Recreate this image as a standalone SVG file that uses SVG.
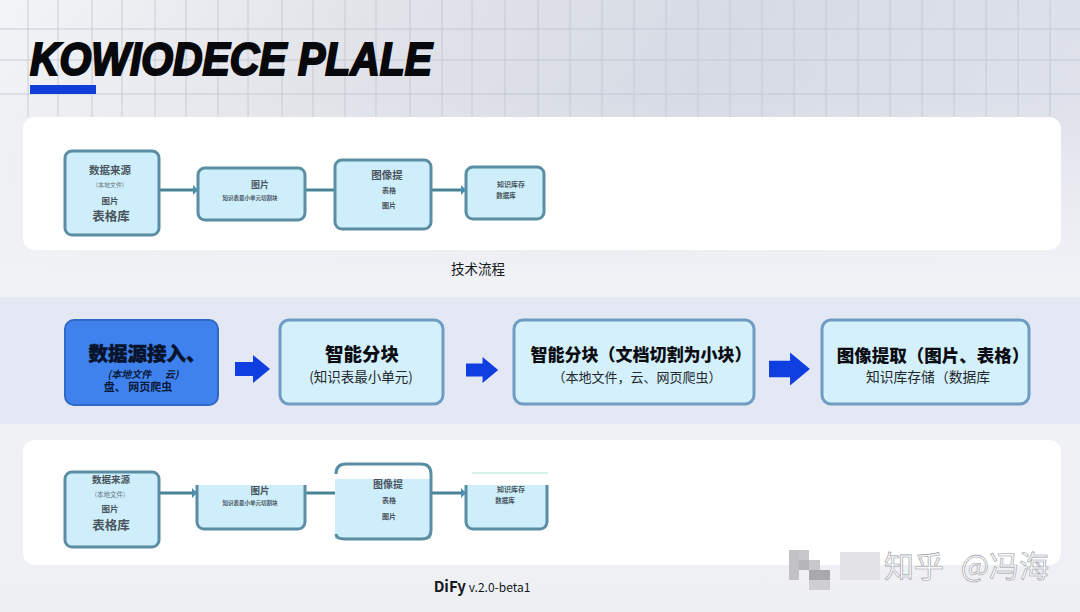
<svg xmlns="http://www.w3.org/2000/svg" width="1080" height="612" viewBox="0 0 1080 612">
<defs>
<linearGradient id="bg" x1="0" y1="0" x2="1" y2="0.35"><stop offset="0" stop-color="#f3f4f7"/><stop offset="0.3" stop-color="#e2e4ea"/><stop offset="0.62" stop-color="#d7dbe5"/><stop offset="1" stop-color="#e0e3ec"/></linearGradient>
<linearGradient id="low" x1="0" y1="0" x2="0" y2="1"><stop offset="0" stop-color="#f1f2f6" stop-opacity="0"/><stop offset="0.35" stop-color="#f1f2f6"/><stop offset="1" stop-color="#eef0f4"/></linearGradient>
<marker id="tip" markerWidth="6" markerHeight="10" refX="4" refY="5" orient="auto" markerUnits="userSpaceOnUse"><path d="M0 0L5 5L0 10Z" fill="#4a8fb0"/></marker>
<path id="big" d="M0 -7H18V-14L35 0L18 14V7H0Z" fill="#0f3fe0"/>
</defs>
<style>
.card{fill:#fff}
.nd{fill:#cdeefa;stroke:#5b8ea3;stroke-width:3}
.bl{fill:#d3f0fb;stroke:#6f9cc2;stroke-width:3}
.ln{stroke:#4a8295;stroke-width:3;fill:none}
.grid{stroke:#c0c4ce;stroke-width:1;fill:none;opacity:.8}
text{font-family:"Noto Sans CJK SC","Liberation Sans",sans-serif;text-anchor:middle}
.g{fill:#4a555e;font-weight:700}
.m{fill:#6a757d}
.h{font-weight:900;fill:#0b0d12}
.s{font-size:13px;fill:#24282e}
</style>
<rect width="1080" height="612" fill="url(#bg)"/>
<g class="grid">
<path d="M28 0V117M58 0V117M92 0V117M122 0V117M155 0V117M186 0V117M218 0V117M248 0V117M282 0V117M313 0V117M345 0V117M376 0V117M410 0V117M442 0V117M472 0V117M505 0V117M538 0V117M570 0V117M602 0V117M634 0V117M666 0V117M698 0V117M730 0V117M762 0V117M794 0V117M826 0V117M858 0V117M890 0V117M922 0V117M954 0V117M986 0V117M1018 0V117M1050 0V117"/>
<path d="M0 29H1080M0 60H1080M0 94H1080"/>
</g>
<rect y="100" width="1080" height="512" fill="url(#low)"/>
<rect x="0" y="297" width="1080" height="127" fill="#e4e8f5"/>
<rect class="card" x="23" y="117" width="1038" height="133" rx="12"/>
<rect class="card" x="23" y="440" width="1038" height="125" rx="12"/>
<text x="30" y="75" style="text-anchor:start;font-family:'Liberation Sans',sans-serif;font-size:47px;font-weight:700;font-style:italic" fill="#08090c" stroke="#08090c" stroke-width="2.2" textLength="402" lengthAdjust="spacingAndGlyphs">KOWIODECE PLALE</text>
<rect x="30" y="85" width="66" height="9" fill="#0f3fd8"/>
<g id="connectors">
<path class="ln" d="M160 190H197" marker-end="url(#tip)"/>
<path class="ln" d="M306 190H335"/>
<path class="ln" d="M432 190H465" marker-end="url(#tip)"/>
<path class="ln" d="M160 493H196" marker-end="url(#tip)"/>
<path class="ln" d="M306 493H335"/>
<path class="ln" d="M432 493H465" marker-end="url(#tip)"/>
<use href="#big" x="235" y="369"/>
<use href="#big" transform="translate(466 370) scale(.92)"/>
<use href="#big" transform="translate(769 369) scale(1.17)"/>
</g>
<g id="top-1"><rect class="nd" x="65" y="151" width="94" height="84" rx="7"/>
<text class="g" x="110" y="174" font-size="10.5">数据来源</text><text class="m" x="110" y="187" font-size="6">(本地文件)</text><text class="g" x="110" y="204" font-size="8.5" font-weight="400">图片</text><text class="g" x="111" y="221" font-size="12.5">表格库</text></g>
<g id="top-2"><rect class="nd" x="198" y="168" width="107" height="52" rx="7"/>
<text class="g" x="260" y="188" font-size="9" font-weight="400">图片</text><text class="g" x="250" y="200" font-size="5.5">知识表最小单元切割块</text></g>
<g id="top-3"><rect class="nd" x="335" y="160" width="96" height="69" rx="7"/>
<text class="g" x="387" y="179" font-size="10.5">图像提</text><text class="g" x="389" y="193" font-size="7">表格</text><text class="g" x="389" y="208" font-size="7">图片</text></g>
<g id="top-4"><rect class="nd" x="466" y="167" width="78" height="52" rx="7"/>
<text class="g" x="511" y="187" font-size="7">知识库存</text><text class="g" x="506" y="198" font-size="6.5">数据库</text></g>
<text id="cap-1" x="478" y="274" font-size="13.5" fill="#15181c">技术流程</text>
<g id="mid-1"><rect x="65" y="320" width="153" height="85" rx="9" fill="#3f82ee" stroke="#3069c4" stroke-width="2"/>
<text x="147" y="361" font-size="19.5" font-weight="900" fill="#08142c" stroke="#08142c" stroke-width=".5">数据源接入、</text>
<text x="143" y="378" font-size="10" font-weight="700" font-style="italic" fill="#0a1a3a" xml:space="preserve">(本地文件      云)</text>
<text x="138" y="391" font-size="11" font-weight="700" fill="#0a1a3a" xml:space="preserve">盘、 网页爬虫</text></g>
<g id="mid-2"><rect class="bl" x="280" y="320" width="163" height="84" rx="9"/><text class="h" font-size="18.5" x="362" y="361">智能分块</text><text class="s" x="361" y="382" style="font-size:13.5px">(知识表最小单元)</text></g>
<g id="mid-3"><rect class="bl" x="514" y="320" width="240" height="84" rx="9"/><text class="h" font-size="17" x="641" y="361">智能分块（文档切割为小块）</text><text class="s" x="637" y="382">（本地文件，云、网页爬虫）</text></g>
<g id="mid-4"><rect class="bl" x="822" y="320" width="207" height="84" rx="9"/><text class="h" font-size="17.5" x="933" y="362">图像提取（图片、表格）</text><text class="s" x="928" y="382" style="font-size:13.8px">知识库存储（数据库</text></g>
<g id="bot-1"><rect class="nd" x="65" y="472" width="94" height="75" rx="7"/>
<text class="g" x="111" y="483" font-size="9.5">数据来源</text><text class="m" x="110" y="497" font-size="6.5">(本地文件)</text><text class="g" x="110" y="512" font-size="8.5" font-weight="400">图片</text><text class="g" x="111" y="530" font-size="12.5">表格库</text></g>
<g id="bot-2"><rect class="nd" x="197" y="470" width="108" height="59" rx="7"/><rect x="190" y="464" width="122" height="21" fill="#fff"/>
<text class="g" x="260" y="494" font-size="9.5" font-weight="400">图片</text><text class="g" x="250" y="505" font-size="5.5">知识表最小单元切割块</text></g>
<g id="bot-3"><rect x="335" y="479" width="96" height="60" fill="#cdeefa"/><path d="M336 474Q336 464 346 464H421Q431 464 431 474V530Q431 539 422 539H345Q336 539 336 534" fill="none" stroke="#5b8ea3" stroke-width="3"/>
<text class="g" x="388" y="488" font-size="10">图像提</text><text class="g" x="389" y="503" font-size="7">表格</text><text class="g" x="389" y="519" font-size="7">图片</text></g>
<g id="bot-4"><rect class="nd" x="466" y="470" width="81" height="59" rx="7"/><rect x="460" y="464" width="94" height="21" fill="#fff"/><rect x="472" y="472" width="76" height="2" fill="#d8f3ee"/>
<text class="g" x="511" y="492" font-size="7">知识库存</text><text class="g" x="505" y="503" font-size="6.5">数据库</text></g>
<text id="cap-2" x="482" y="592" font-size="13" fill="#15181c" xml:space="preserve"><tspan font-weight="700" font-size="15">DiFy</tspan> <tspan font-size="12">v.2.0-beta1</tspan></text>
<g id="mosaic">
<rect x="789" y="550" width="10" height="30" fill="#c2c2c5"/><rect x="799" y="550" width="10" height="10" fill="#c8c8cb"/><rect x="799" y="560" width="10" height="10" fill="#b5b5b8"/><rect x="809" y="560" width="11" height="10" fill="#c8c8cb"/><rect x="809" y="570" width="21" height="10" fill="#a9a9ad"/><rect x="809" y="580" width="21" height="10" fill="#cfcfd3"/><rect x="840" y="552" width="40" height="28" fill="#e3e3e6"/>
</g>
<text id="mark" x="884" y="577" font-size="30" fill="#f8f8fa" stroke="#9a9ca3" stroke-width=".6" word-spacing="10" style="text-anchor:start;font-family:'Noto Sans CJK SC',sans-serif">知乎 @冯海</text>
</svg>
